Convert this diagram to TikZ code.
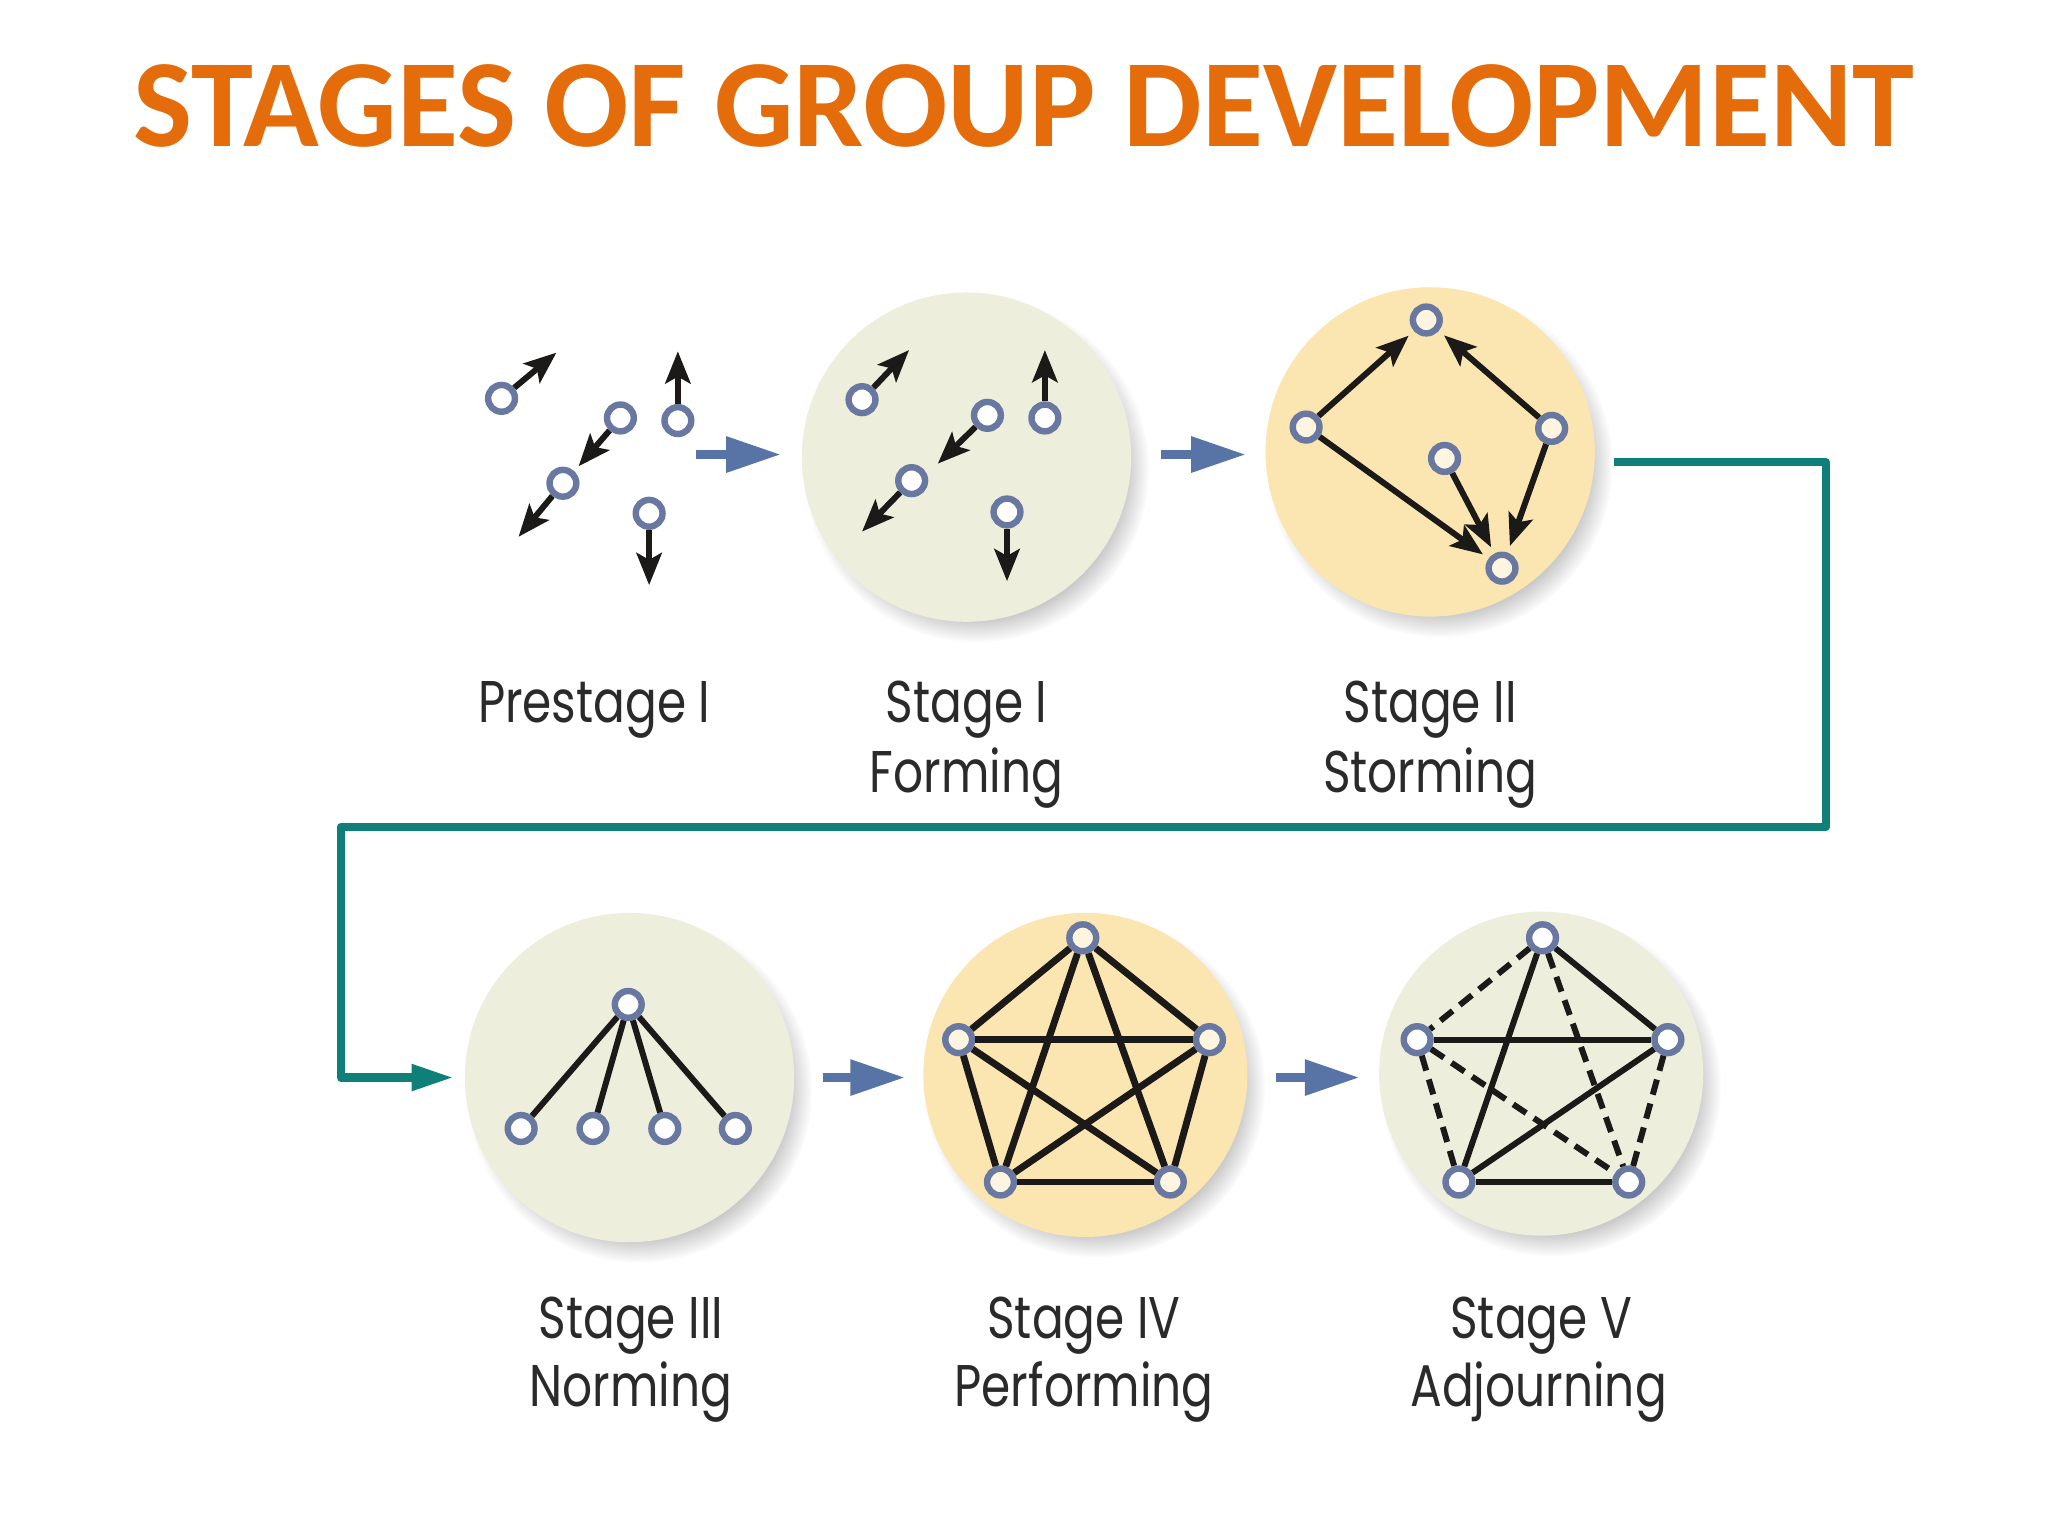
\documentclass[tikz,border=0pt]{standalone}
\usepackage{fontspec}
\newfontfamily\titlefont{Carlito}
\newfontfamily\labfont[FakeStretch=0.8]{Poppins}
\usetikzlibrary{shadows,arrows.meta,fadings}
\definecolor{ttl}{HTML}{E46C0A}
\definecolor{pale}{HTML}{EDEEDB}
\definecolor{yel}{HTML}{FBE5B1}
\definecolor{ndc}{HTML}{6878A0}
\definecolor{edc}{HTML}{1C1A18}
\definecolor{blu}{HTML}{5873A6}
\definecolor{teal2}{HTML}{0E8079}
\definecolor{labc}{HTML}{2A2A2A}
\tikzset{
  pt/.style={circle,draw=ndc,fill=white,line width=1.4pt,minimum size=0.205cm,inner sep=0pt},
  bigc/.style={circle,inner sep=0pt,minimum size=2.52cm,
    circular drop shadow={shadow xshift=0.07cm,shadow yshift=-0.09cm,shadow scale=1.05,opacity=0.45}},
  arr/.style={draw=edc,line width=1.3pt,-{Stealth[length=7pt,width=5.5pt,inset=1.5pt]}},
  sarr/.style={arr,shorten >=1.5pt},
  edge/.style={draw=edc,line width=1.3pt},
  dedge/.style={edge,dash pattern=on 3.4pt off 2pt},
  bluearr/.style={draw=blu,line width=2pt,-{Triangle[length=0.42cm,width=0.26cm]}},
  lab/.style={font=\labfont\fontsize{12.8}{14}\selectfont,text=labc,anchor=base,inner sep=0pt}
}
\begin{document}
\begin{tikzpicture}[x=0.01cm,y=-0.01cm]
\useasboundingbox (0,0) rectangle (1568,1176);
\fill[white] (0,0) rectangle (1568,1176);

% title
\node[font=\titlefont\bfseries\fontsize{27.2}{30}\selectfont,text=ttl,anchor=base,inner sep=0pt] (title) at (784,112) {STAGES OF GROUP DEVELOPMENT};

% big circles
\node[bigc,fill=pale] (s1) at (740,350) {};
\node[bigc,fill=yel] (s2) at (1095,346) {};
\node[bigc,fill=pale] (s3) at (482,825) {};
\node[bigc,fill=yel,minimum size=2.48cm] (s4) at (831,823) {};
\node[bigc,fill=pale,minimum size=2.48cm] (s5) at (1180,822) {};

% prestage
\node[pt] (a1) at (384,305) {};
\node[pt] (a2) at (475,320) {};
\node[pt] (a3) at (431,370) {};
\node[pt] (a4) at (519,322) {};
\node[pt] (a5) at (497,393) {};
\coordinate (a1t) at (426,270);
\coordinate (a2t) at (443,357);
\coordinate (a3t) at (397,411);
\coordinate (a4t) at (519,269);
\coordinate (a5t) at (497,448);
\draw[arr] (a1) -- (a1t);
\draw[arr] (a2) -- (a2t);
\draw[arr] (a3) -- (a3t);
\draw[arr] (a4) -- (a4t);
\draw[arr] (a5) -- (a5t);

% stage I
\node[pt] (b1) at (660,306) {};
\node[pt] (b2) at (756,318) {};
\node[pt] (b3) at (698,368) {};
\node[pt] (b4) at (800,320) {};
\node[pt] (b5) at (771,392) {};
\coordinate (b1t) at (696,268);
\coordinate (b2t) at (718,355);
\coordinate (b3t) at (660,407);
\coordinate (b4t) at (800,268);
\coordinate (b5t) at (771,445);
\draw[arr] (b1) -- (b1t);
\draw[arr] (b2) -- (b2t);
\draw[arr] (b3) -- (b3t);
\draw[arr] (b4) -- (b4t);
\draw[arr] (b5) -- (b5t);

% stage II
\node[pt,fill=white!60!yel] (c1) at (1092,245) {};
\node[pt,fill=white!60!yel] (c2) at (1000,327) {};
\node[pt,fill=white!60!yel] (c3) at (1188,328) {};
\node[pt,fill=white!60!yel] (c4) at (1106,351) {};
\node[pt,fill=white!60!yel] (c5) at (1150,435) {};
\draw[sarr] (c2) -- (c1);
\draw[sarr] (c3) -- (c1);
\draw[sarr] (c2) -- (c5);
\draw[sarr] (c4) -- (c5);
\draw[sarr] (c3) -- (c5);

% stage III
\node[pt] (d0) at (481,769) {};
\node[pt] (d1) at (399,864) {};
\node[pt] (d2) at (454,864) {};
\node[pt] (d3) at (509,864) {};
\node[pt] (d4) at (563,864) {};
\draw[edge] (d0) -- (d1);
\draw[edge] (d0) -- (d2);
\draw[edge] (d0) -- (d3);
\draw[edge] (d0) -- (d4);

% stage IV
\node[pt,fill=white!60!yel] (e1) at (829,718) {};
\node[pt,fill=white!60!yel] (e2) at (734,796) {};
\node[pt,fill=white!60!yel] (e3) at (926,796) {};
\node[pt,fill=white!60!yel] (e4) at (766,905) {};
\node[pt,fill=white!60!yel] (e5) at (896,905) {};
\foreach \p/\q in {e1/e2,e1/e3,e2/e3,e2/e4,e3/e5,e4/e5,e1/e4,e1/e5,e2/e5,e3/e4}
  \draw[edge,line width=1.5pt] (\p) -- (\q);

% stage V
\node[pt] (f1) at (1181,718) {};
\node[pt] (f2) at (1085,796) {};
\node[pt] (f3) at (1277,796) {};
\node[pt] (f4) at (1117,905) {};
\node[pt] (f5) at (1247,905) {};
\draw[dedge] (f1) -- (f2);
\draw[edge] (f1) -- (f3);
\draw[edge] (f2) -- (f3);
\draw[dedge] (f2) -- (f4);
\draw[dedge] (f3) -- (f5);
\draw[edge] (f4) -- (f5);
\draw[edge] (f1) -- (f4);
\draw[dedge] (f1) -- (f5);
\draw[dedge] (f2) -- (f5);
\draw[edge] (f3) -- (f4);

% blue arrows
\coordinate (g1s) at (533,348); \coordinate (g1e) at (598,348);
\coordinate (g2s) at (889,348); \coordinate (g2e) at (954,348);
\coordinate (g3s) at (630,825); \coordinate (g3e) at (693,825);
\coordinate (g4s) at (977,825); \coordinate (g4e) at (1041,825);
\draw[bluearr] (g1s) -- (g1e);
\draw[bluearr] (g2s) -- (g2e);
\draw[bluearr] (g3s) -- (g3e);
\draw[bluearr] (g4s) -- (g4e);

% teal connector
\coordinate (t0) at (1236,354);
\draw[teal2,line width=1.8pt,line join=round,-{Triangle[length=0.32cm,width=0.19cm]},shorten >=0.08cm]
  (t0) -- (1398,354) -- (1398,633) -- (261,633) -- (261,825) -- (s3.west);

% labels
\node[lab] (l0) at (455,553) {Prestage I};
\node[lab] (l1a) at (740,553) {Stage I};
\node[lab] (l1b) at (740,607) {Forming};
\node[lab] (l2a) at (1095,553) {Stage II};
\node[lab] (l2b) at (1095,607) {Storming};
\node[lab] (l3a) at (483,1025) {Stage III};
\node[lab] (l3b) at (483,1077) {Norming};
\node[lab] (l4a) at (830,1025) {Stage IV};
\node[lab] (l4b) at (830,1077) {Performing};
\node[lab] (l5a) at (1180,1025) {Stage V};
\node[lab] (l5b) at (1178,1077) {Adjourning};
\end{tikzpicture}
\end{document}
